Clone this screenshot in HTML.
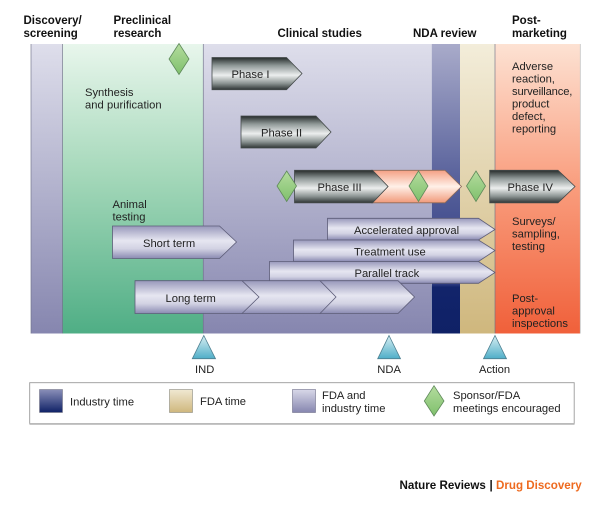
<!DOCTYPE html>
<html><head><meta charset="utf-8">
<style>
html,body{margin:0;padding:0;background:#fff;width:600px;height:509px;overflow:hidden}
svg{display:block}
text{font-family:"Liberation Sans",sans-serif;font-size:11.2px;fill:#222}
.b{font-weight:bold;font-size:11.5px;fill:#111}
.f{font-weight:bold;font-size:11.6px;fill:#111}
</style></head><body>
<svg width="600" height="509" viewBox="0 0 600 509" xmlns="http://www.w3.org/2000/svg">
<defs>
<linearGradient id="lil" x1="0" y1="0" x2="0" y2="1"><stop offset="0" stop-color="#dedeeb"/><stop offset="1" stop-color="#8686af"/></linearGradient>
<linearGradient id="grn" x1="0" y1="0" x2="0" y2="1"><stop offset="0" stop-color="#e8f6ec"/><stop offset=".45" stop-color="#a5d8ba"/><stop offset="1" stop-color="#4fae85"/></linearGradient>
<linearGradient id="blu" x1="0" y1="0" x2="0" y2="1"><stop offset="0" stop-color="#a9abca"/><stop offset=".45" stop-color="#5b649d"/><stop offset=".83" stop-color="#2c3a80"/><stop offset=".84" stop-color="#12246b"/><stop offset="1" stop-color="#0f2166"/></linearGradient>
<linearGradient id="bei" x1="0" y1="0" x2="0" y2="1"><stop offset="0" stop-color="#f3edda"/><stop offset="1" stop-color="#cfb77d"/></linearGradient>
<linearGradient id="org" x1="0" y1="0" x2="0" y2="1"><stop offset="0" stop-color="#fde2d3"/><stop offset=".5" stop-color="#f99c7c"/><stop offset="1" stop-color="#f0603a"/></linearGradient>
<linearGradient id="met" x1="0" y1="0" x2="0" y2="1"><stop offset="0" stop-color="#262c2b"/><stop offset=".25" stop-color="#8f9897"/><stop offset=".55" stop-color="#eceeee"/><stop offset=".8" stop-color="#8d9594"/><stop offset="1" stop-color="#2f3535"/></linearGradient>
<linearGradient id="arr" x1="0" y1="0" x2="0" y2="1"><stop offset="0" stop-color="#9898bb"/><stop offset=".45" stop-color="#e6e6f1"/><stop offset=".7" stop-color="#d2d2e3"/><stop offset="1" stop-color="#8a8ab2"/></linearGradient>
<linearGradient id="pch" x1="0" y1="0" x2="0" y2="1"><stop offset="0" stop-color="#f4a084"/><stop offset=".5" stop-color="#fff0e8"/><stop offset="1" stop-color="#f19a7a"/></linearGradient>
<linearGradient id="dia" x1="0" y1="0" x2="0" y2="1"><stop offset="0" stop-color="#b4dc9e"/><stop offset="1" stop-color="#7fc06c"/></linearGradient>
<linearGradient id="tri" x1="0" y1="0" x2="0" y2="1"><stop offset="0" stop-color="#d8eef2"/><stop offset="1" stop-color="#4faec8"/></linearGradient>
<linearGradient id="sb" x1="0" y1="0" x2="0" y2="1"><stop offset="0" stop-color="#8a8fb8"/><stop offset="1" stop-color="#0f2166"/></linearGradient>
<linearGradient id="sf" x1="0" y1="0" x2="0" y2="1"><stop offset="0" stop-color="#f0e8d2"/><stop offset="1" stop-color="#cfb77d"/></linearGradient>
<linearGradient id="sl" x1="0" y1="0" x2="0" y2="1"><stop offset="0" stop-color="#d8d8e8"/><stop offset="1" stop-color="#8686af"/></linearGradient>
</defs>

<!-- columns -->
<rect x="31" y="44" width="400" height="289.5" fill="url(#lil)"/>
<rect x="62.5" y="44" width="140.5" height="289.5" fill="url(#grn)"/>
<rect x="431.5" y="44" width="28.5" height="289.5" fill="url(#blu)"/>
<rect x="460" y="44" width="35" height="289.5" fill="url(#bei)"/>
<rect x="495" y="44" width="85" height="289.5" fill="url(#org)"/>
<g stroke="#6f7188" stroke-width=".8" opacity=".8">
<line x1="31" y1="44" x2="31" y2="333.5"/><line x1="62.5" y1="44" x2="62.5" y2="333.5"/><line x1="203.3" y1="44" x2="203.3" y2="333.5"/><line x1="495" y1="44" x2="495" y2="333.5"/>
</g>
<line x1="580.3" y1="44" x2="580.3" y2="333.5" stroke="#c4c4c4" stroke-width=".8"/>

<!-- headers -->
<text class="b" x="23.5" y="24">Discovery/</text><text class="b" x="23.5" y="37">screening</text>
<text class="b" x="113.5" y="24">Preclinical</text><text class="b" x="113.5" y="37">research</text>
<text class="b" x="277.5" y="37">Clinical studies</text>
<text class="b" x="413" y="37">NDA review</text>
<text class="b" x="512" y="24">Post-</text><text class="b" x="512" y="37">marketing</text>

<!-- body labels -->
<text x="85" y="96">Synthesis</text><text x="85" y="108.5" style="letter-spacing:.05px">and purification</text>
<text x="112.5" y="208">Animal</text><text x="112.5" y="220.5">testing</text>
<text x="512" y="70">Adverse</text><text x="512" y="82.5">reaction,</text><text x="512" y="95" style="letter-spacing:-.15px">surveillance,</text><text x="512" y="107.5">product</text><text x="512" y="120">defect,</text><text x="512" y="132.5">reporting</text>
<text x="512" y="225">Surveys/</text><text x="512" y="237.5">sampling,</text><text x="512" y="250">testing</text>
<text x="512" y="302">Post-</text><text x="512" y="314.5">approval</text><text x="512" y="327">inspections</text>

<!-- phase arrows -->
<g stroke="#444a4a" stroke-width=".8">
<path d="M212 57.5H286.5L302 73.5L286.5 89.7H212Z" fill="url(#met)"/>
<path d="M241 116H316L331 132L316 148H241Z" fill="url(#met)"/>
<path d="M372 170.3H445L461.5 186.5L445 202.8H372L388 186.5Z" fill="url(#pch)" stroke="#8a6a5a"/>
<path d="M294.5 170.3H372.5L388 186.5L372.5 202.8H294.5Z" fill="url(#met)"/>
<path d="M489.7 170.3H558L575 186.5L558 202.8H489.7Z" fill="url(#met)"/>
</g>

<!-- regulatory arrows -->
<g fill="url(#arr)" stroke="#5d5d78" stroke-width=".8">
<path d="M327.5 218.3H478.5L495 229.5L478.5 240H327.5Z"/>
<path d="M293.5 240H478.5L495 250.5L478.5 261.5H293.5Z"/>
<path d="M269.5 261.5H478.5L495 272.5L478.5 283.3H269.5Z"/>
<path d="M112.5 226H219.5L236.5 242L219.5 258.5H112.5Z"/>
<path d="M320 280.7H398L414.5 297L398 313.5H320Z"/>
<path d="M242 280.7H320L336 297L320 313.5H242Z"/>
<path d="M135 280.7H242L259 297L242 313.5H135Z"/>
</g>

<!-- arrow labels -->
<text x="231.5" y="78">Phase I</text>
<text x="261" y="136.5">Phase II</text>
<text x="317.5" y="191">Phase III</text>
<text x="507.5" y="191">Phase IV</text>
<text x="354" y="234">Accelerated approval</text>
<text x="354" y="255.5">Treatment use</text>
<text x="354.5" y="277">Parallel track</text>
<text x="143" y="247">Short term</text>
<text x="165.5" y="302">Long term</text>

<!-- triangles -->
<g fill="url(#tri)" stroke="#4d7f90" stroke-width=".8">
<path d="M203.8 335.5L215.5 358.7H192.3Z"/>
<path d="M389 335.5L400.5 358.7H377.7Z"/>
<path d="M495 335.5L506.5 358.7H483.5Z"/>
</g>
<text x="195" y="373">IND</text>
<text x="377.3" y="373">NDA</text>
<text x="479" y="373">Action</text>

<!-- legend -->
<rect x="29.7" y="382.7" width="544.5" height="41" fill="#fff" stroke="#9a9a9a" stroke-width=".9"/>
<line x1="29.5" y1="424" x2="574.5" y2="424" stroke="#b4b4b4" stroke-width="1.5"/>
<rect x="39.5" y="389.5" width="23" height="23" fill="url(#sb)" stroke="#7a7a8a" stroke-width=".6"/>
<rect x="169.5" y="389.5" width="23" height="23" fill="url(#sf)" stroke="#8a8a80" stroke-width=".6"/>
<rect x="292.5" y="389.5" width="23" height="23" fill="url(#sl)" stroke="#70708a" stroke-width=".6"/>
<text x="70" y="405.5">Industry time</text>
<text x="200" y="405">FDA time</text>
<text x="322" y="399">FDA and</text><text x="322" y="412">industry time</text>
<text x="453" y="399">Sponsor/FDA</text><text x="453" y="412">meetings encouraged</text>

<!-- diamonds -->
<g fill="url(#dia)" stroke="#5f8a5a" stroke-width=".8">
<path d="M179 43.5L189 59L179 74.5L169 59Z"/>
<path d="M286.7 171L296.5 186L286.7 201.5L277 186Z"/>
<path d="M418.5 171L428 186L418.5 201.5L409 186Z"/>
<path d="M476 171L485.500 186L476 201.5L466.5 186Z"/>
<path d="M434 385.7L444 401L434 416L424.3 401Z"/>
</g>

<!-- footer -->
<text class="f" x="399.5" y="489">Nature Reviews</text>
<text class="f" x="489.5" y="489">|</text>
<text class="f" x="496" y="489" style="fill:#ee6a1f">Drug Discovery</text>
</svg>
</body></html>
